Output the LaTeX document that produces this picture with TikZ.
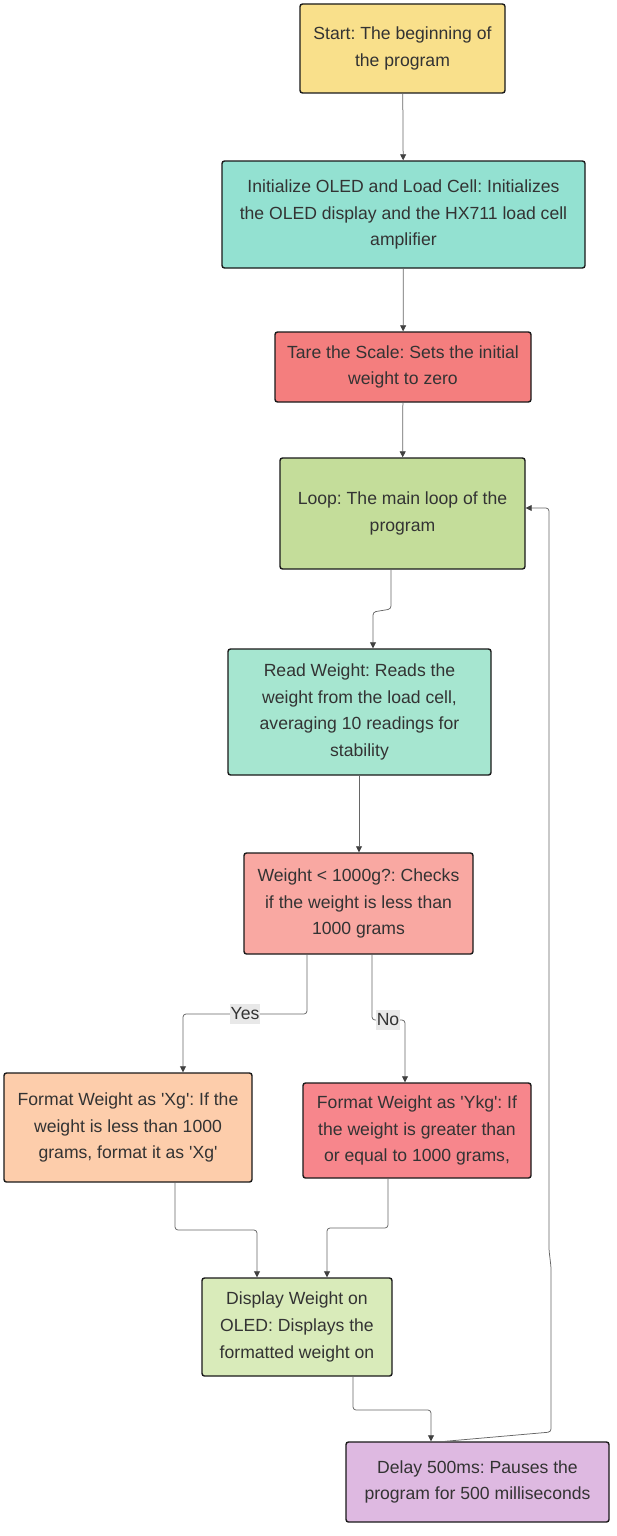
\documentclass[tikz,border=0pt]{standalone}
\usepackage{fontspec}
\setmainfont{Liberation Sans}[Ligatures=TeXOff]
\usetikzlibrary{arrows.meta}
\frenchspacing
\definecolor{cstart}{HTML}{F9E08B}
\definecolor{cinit}{HTML}{93E1D1}
\definecolor{ctare}{HTML}{F47E7E}
\definecolor{cloop}{HTML}{C4DD9A}
\definecolor{cread}{HTML}{A6E6D0}
\definecolor{ccheck}{HTML}{F9A8A2}
\definecolor{cxg}{HTML}{FDCDAB}
\definecolor{cykg}{HTML}{F7868C}
\definecolor{cdisp}{HTML}{D9EBBA}
\definecolor{cdelay}{HTML}{DEB9E1}
\definecolor{ctext}{HTML}{333333}
\definecolor{cedge}{HTML}{666666}
\definecolor{clab}{HTML}{E8E8E8}
\tikzset{
  box/.style={draw=black!90, line width=1.4pt, rounded corners=2.5pt, align=center,
    text=ctext, font=\fontsize{17.6}{26.6}\selectfont, inner sep=0pt,
    execute at begin node={\rule{0pt}{19pt}}},
  flow/.style={draw=cedge, line width=0.75pt, rounded corners=3pt,
    -{Triangle[length=6pt,width=6pt,color=black!75]}},
  lab/.style={fill=clab, text=ctext, font=\fontsize{17.6}{20}\selectfont, inner xsep=1pt, inner ysep=4pt}
}
\begin{document}
\begin{tikzpicture}[x=1pt,y=-1pt]
\useasboundingbox (0,0) rectangle (617,1536);
\node[box, fill=cstart, minimum width=205pt, minimum height=89pt] (start) at (402.5,48.5)
  {Start: The beginning of\\the program};
\node[box, fill=cinit, minimum width=363pt, minimum height=107pt] (init) at (403.5,214.5)
  {Initialize OLED and Load Cell: Initializes\\the OLED display and the HX711 load cell\\amplifier};
\node[box, fill=ctare, minimum width=256pt, minimum height=70pt] (tare) at (403,367)
  {Tare the Scale: Sets the initial\\weight to zero};
\node[box, fill=cloop, minimum width=245pt, minimum height=111pt] (loop) at (402.5,513.5)
  {Loop: The main loop of the\\program};
\node[box, fill=cread, minimum width=263pt, minimum height=126pt] (read) at (359.5,712)
  {Read Weight: Reads the\\weight from the load cell,\\averaging 10 readings for\\stability};
\node[box, fill=ccheck, minimum width=229pt, minimum height=101pt] (check) at (358.5,903.5)
  {Weight < 1000g?: Checks\\if the weight is less than\\1000 grams};
\node[box, fill=cxg, minimum width=248pt, minimum height=109pt] (xg) at (128,1127.5)
  {Format Weight as 'Xg': If the\\weight is less than 1000\\grams, format it as 'Xg'};
\node[box, fill=cykg, minimum width=228pt, minimum height=95pt] (ykg) at (417,1130.5)
  {Format Weight as 'Ykg': If\\the weight is greater than\\or equal to 1000 grams,};
\node[box, fill=cdisp, minimum width=190pt, minimum height=98pt] (disp) at (297,1327)
  {Display Weight on\\OLED: Displays the\\formatted weight on};
\node[box, fill=cdelay, minimum width=263pt, minimum height=80pt] (delay) at (477.5,1482)
  {Delay 500ms: Pauses the\\program for 500 milliseconds};

\draw[flow] (start) -- (init);
\draw[flow] (init) -- (tare);
\draw[flow] (tare) -- (loop);
\draw[flow] (loop.south -| 391,0) -- (391,609) -- (373,612) -- (read.north -| 373,0);
\draw[flow] (read.south -| 359,0) -- (check.north -| 359,0);
\draw[flow] (check.south -| 307,0) -- (307,1014) -- (183,1014) -- (xg.north -| 183,0);
\node[lab] (yes) at (245,1014) {Yes};
\draw[flow] (check.south -| 372,0) -- (372,1020) -- (405,1020) -- (ykg.north -| 405,0);
\node[lab] (no) at (388,1020) {No};
\draw[flow] (xg.south -| 175,0) -- (175,1230) -- (257,1230) -- (disp.north -| 257,0);
\draw[flow] (ykg.south -| 388,0) -- (388,1228) -- (327,1228) -- (disp.north -| 327,0);
\draw[flow] (disp.south -| 353,0) -- (353,1410) -- (431,1410) -- (delay.north -| 431,0);
\coordinate (ret) at (550,508);
\draw[flow] (delay.north -| 445,0) -- (551,1432) -- (551,1267) -- (549,1250) -- (549,508) -- (loop.east |- ret);
\end{tikzpicture}
\end{document}
